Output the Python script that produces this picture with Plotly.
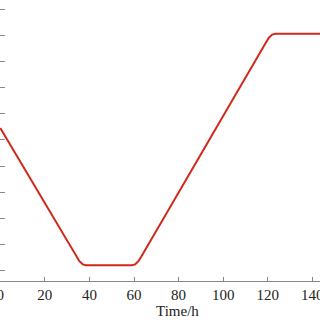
import plotly.graph_objects as go

# Data (time in hours, quantity in tick units)
time_h = [0, 34, 35.5, 37, 38.5, 59, 60.5, 62, 63.5, 119, 120.5, 122, 123.5, 145]
value = [5.46, 0.55, 0.34, 0.22, 0.19, 0.19, 0.22, 0.34, 0.55, 8.72, 8.93, 9.05, 9.08, 9.08]

x_ticks = [0, 20, 40, 60, 80, 100, 120, 140]
y_ticks = [0, 1, 2, 3, 4, 5, 6, 7, 8, 9, 10]
x_title = "Time/h"

fig = go.Figure()
fig.add_trace(go.Scatter(x=time_h, y=value, mode="lines",
                         line=dict(color="#d0281a", width=2), hoverinfo="skip"))

fig.update_layout(
    width=320, height=320,
    margin=dict(l=0, r=0, t=0, b=39),
    paper_bgcolor="white", plot_bgcolor="white",
    showlegend=False,
    font=dict(family="Liberation Serif", size=15, color="#222222"),
)
fig.update_xaxes(range=[-0.13, 143.45], tickvals=x_ticks, ticks="inside", ticklen=4,
                 tickcolor="#888888", showline=True, linecolor="#888888", linewidth=1,
                 showgrid=False, zeroline=False, ticklabeloverflow="allow",
                 automargin=False,
                 tickfont=dict(family="Liberation Serif", size=15, color="#222222"))
fig.update_yaxes(range=[-0.42, 10.38], tickvals=y_ticks, ticks="inside", ticklen=5,
                 tickcolor="#888888", showticklabels=False, showline=False,
                 showgrid=False, zeroline=False, automargin=False)
fig.add_annotation(text=x_title, xref="x", yref="paper", x=79.7, y=-0.107,
                   showarrow=False, yanchor="middle", xanchor="center",
                   font=dict(family="Liberation Serif", size=15, color="#222222"))

fig.write_html("out.html")
